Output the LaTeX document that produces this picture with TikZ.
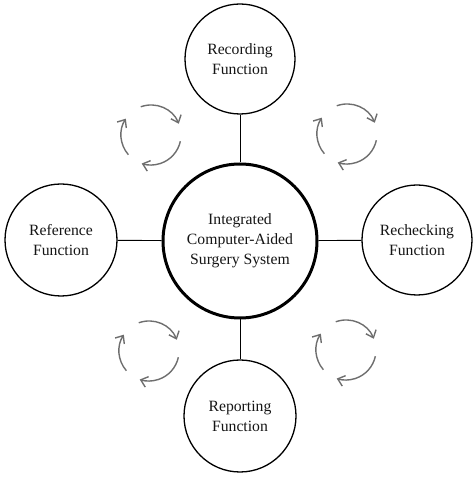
\documentclass[tikz,border=0pt]{standalone}
\usepackage{fontspec}
\setmainfont{Liberation Serif}
\usetikzlibrary{arrows.meta}
\definecolor{arrgray}{HTML}{6E6E6E}
\definecolor{txtgray}{HTML}{151515}
\begin{document}
\begin{tikzpicture}[x=1pt,y=1pt,
  outer/.style={circle,draw=black,line width=1.3pt,minimum size=#1,inner sep=0pt,align=center,
    font=\fontsize{15.7}{20}\selectfont,text=txtgray},
  center/.style={circle,draw=black,line width=3pt,minimum size=154pt,inner sep=0pt,align=center,
    font=\fontsize{15.7}{20}\selectfont,text=txtgray},
  link/.style={draw=black,line width=0.9pt},
  cyc/.style={draw=arrgray,line width=1.4pt,-{Straight Barb[length=6.5pt,width=11pt,line width=1.4pt]}}
]
\useasboundingbox (0,0) rectangle (474,479);
\node[center] (c) at (240,238) {Integrated\\Computer-Aided\\Surgery System};
\node[outer=110pt] (t) at (240,420) {Recording\\Function};
\node[outer=112pt] (b) at (240,63) {Reporting\\Function};
\node[outer=112pt] (l) at (61,239) {Reference\\Function};
\node[outer=110pt] (r) at (417,239) {Rechecking\\Function};
\draw[link] (t) -- (c);
\draw[link] (b) -- (c);
\draw[link] (l) -- (c);
\draw[link] (r) -- (c);
\foreach \n/\cx/\cy in {tl/151/344, tr/347/345, bl/149/128, br/346/129}{
  \coordinate (\n) at (\cx,\cy);
  \draw[cyc] ([shift={(110:30)}]\n) arc[start angle=110,end angle=22,radius=30];
  \draw[cyc] ([shift={(-12:30)}]\n) arc[start angle=-12,end angle=-108,radius=30];
  \draw[cyc] ([shift={(221:30)}]\n) arc[start angle=221,end angle=147,radius=30];
}
\end{tikzpicture}
\end{document}
